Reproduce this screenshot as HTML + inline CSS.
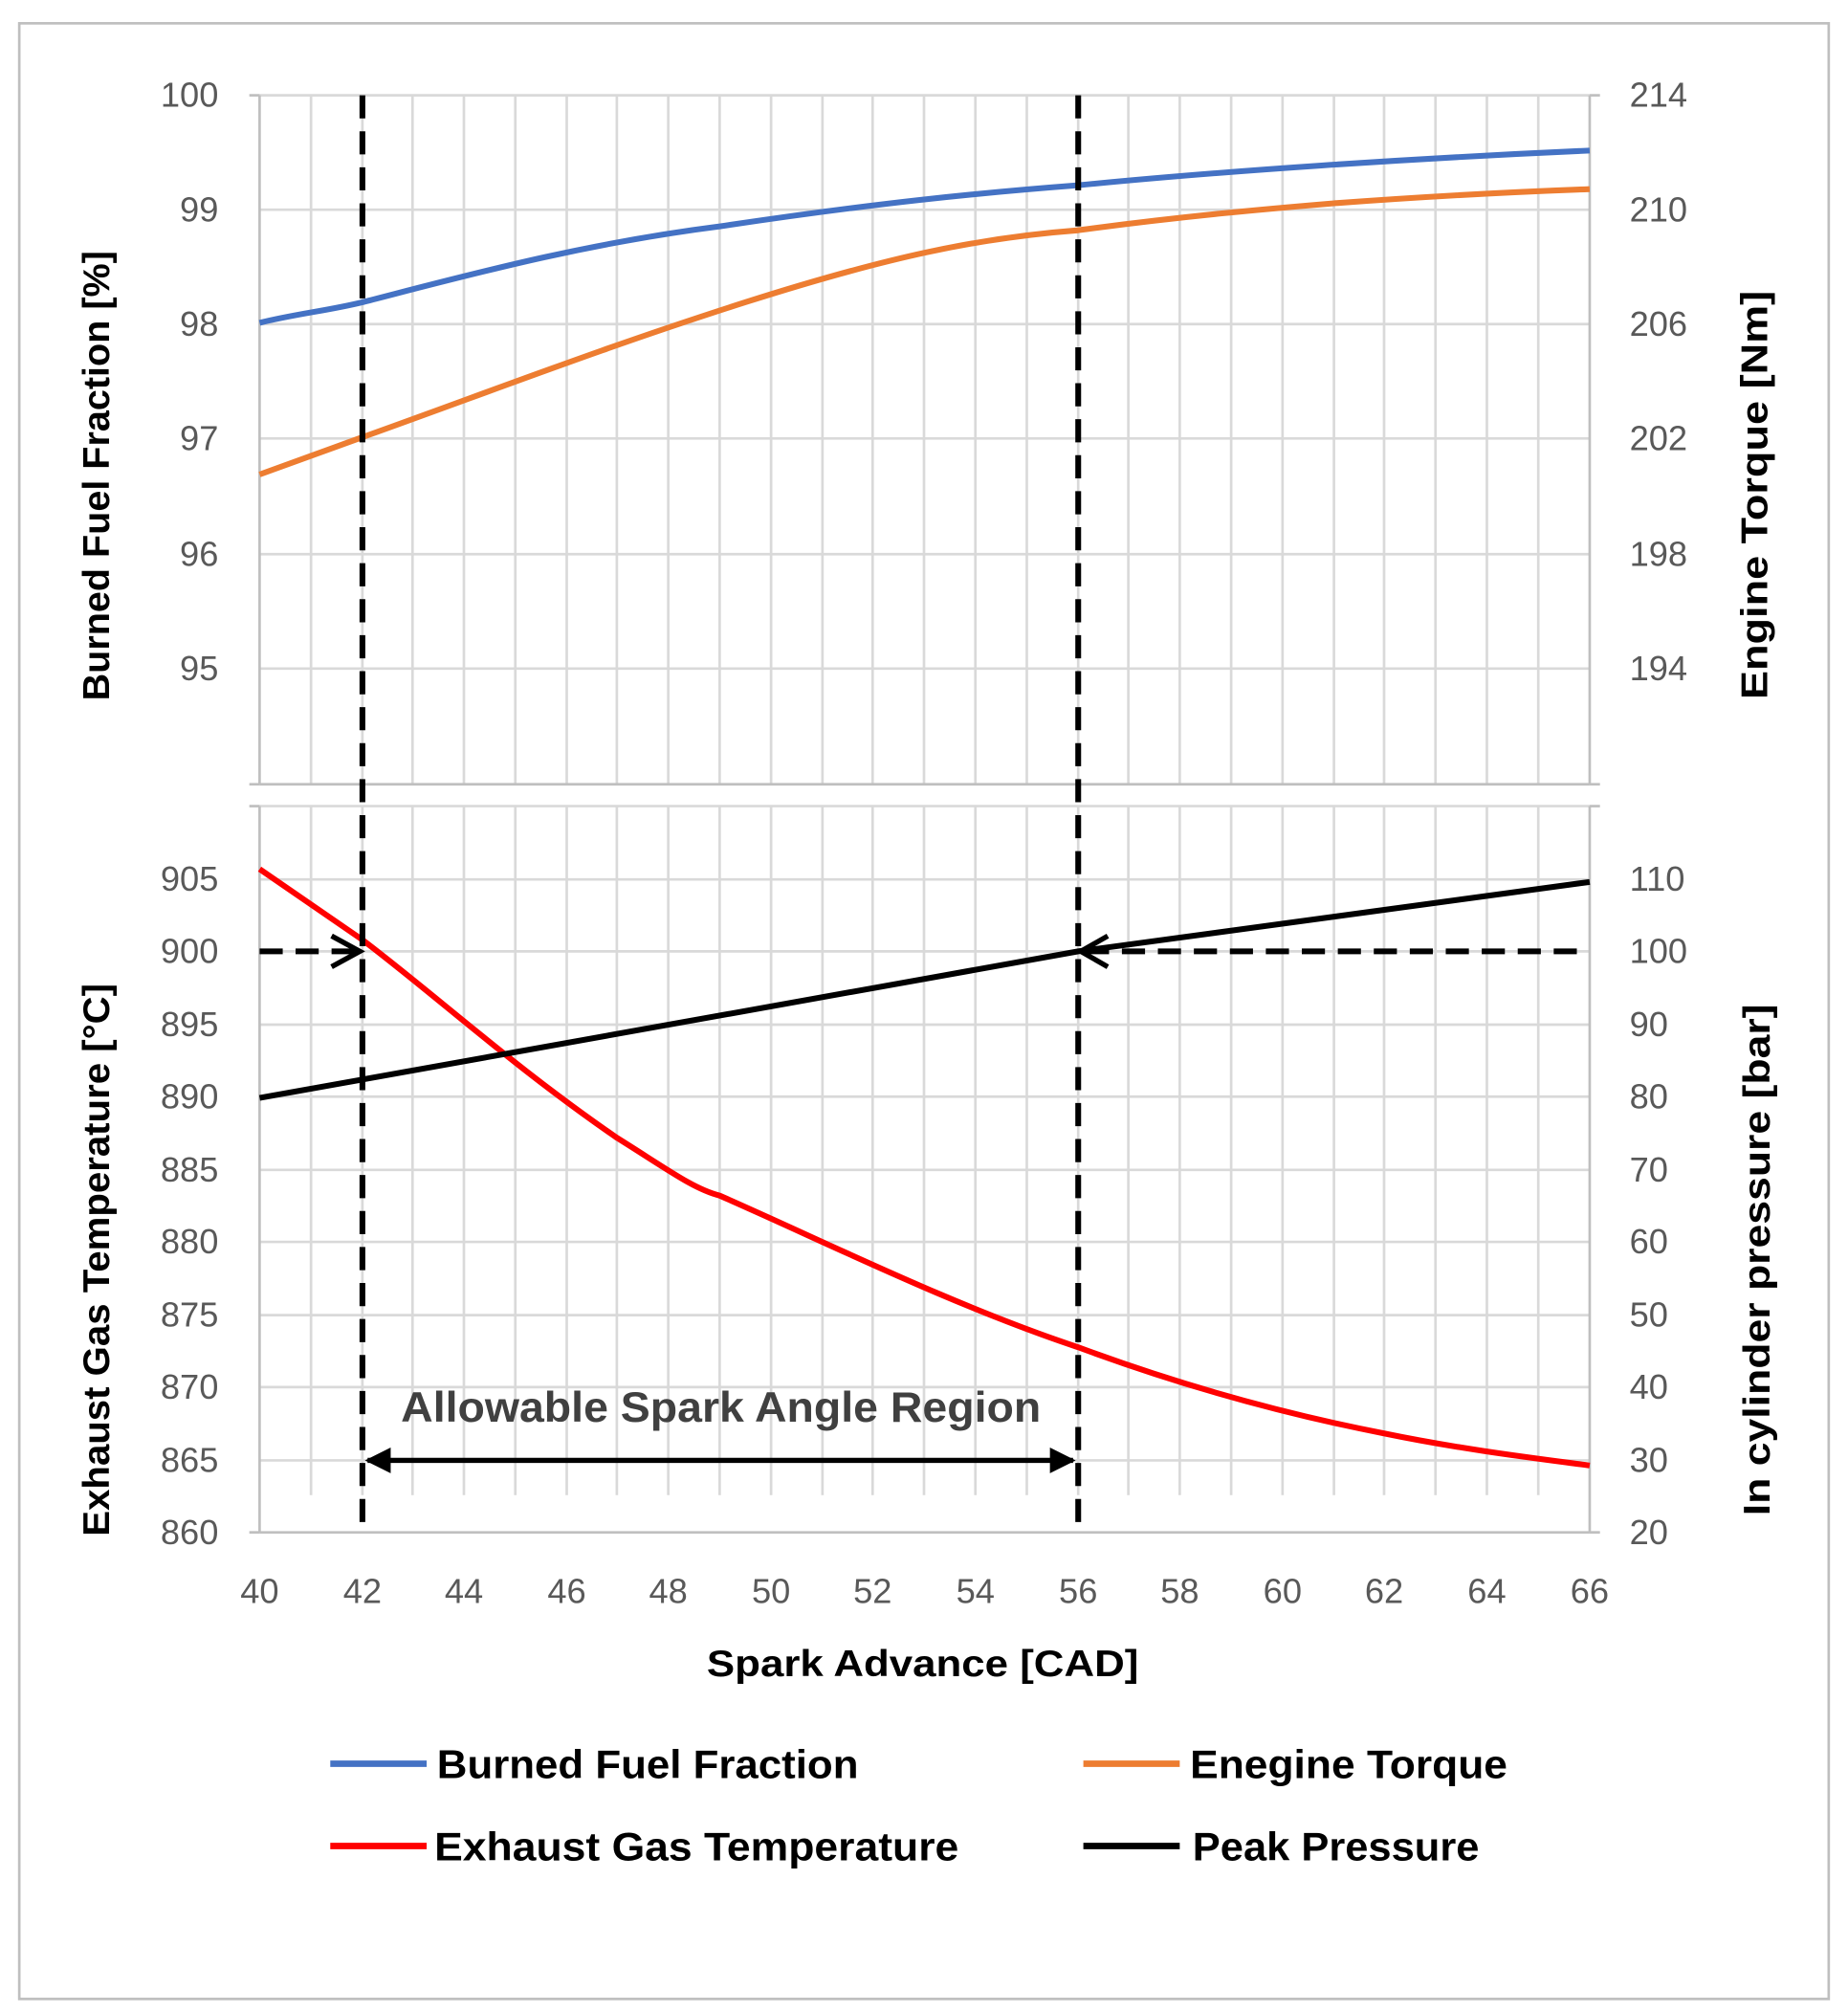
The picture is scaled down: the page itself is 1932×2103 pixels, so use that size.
<!DOCTYPE html>
<html><head><meta charset="utf-8"><style>html,body{margin:0;padding:0;background:#fff}svg{display:block}</style></head>
<body>
<svg width="1932" height="2103" viewBox="0 0 1438 1565" xmlns="http://www.w3.org/2000/svg" font-family="Liberation Sans, sans-serif">
<rect x="15" y="18" width="1408" height="1537" fill="#fff" stroke="#bfbfbf" stroke-width="2"/>
<g stroke="#d9d9d9" stroke-width="2">
<g id="vg">
<line x1="242" y1="74" x2="242" y2="610"/><line x1="282" y1="74" x2="282" y2="610"/><line x1="321" y1="74" x2="321" y2="610"/><line x1="361" y1="74" x2="361" y2="610"/><line x1="401" y1="74" x2="401" y2="610"/><line x1="441" y1="74" x2="441" y2="610"/><line x1="480" y1="74" x2="480" y2="610"/><line x1="520" y1="74" x2="520" y2="610"/><line x1="560" y1="74" x2="560" y2="610"/><line x1="600" y1="74" x2="600" y2="610"/><line x1="640" y1="74" x2="640" y2="610"/><line x1="679" y1="74" x2="679" y2="610"/><line x1="719" y1="74" x2="719" y2="610"/><line x1="759" y1="74" x2="759" y2="610"/><line x1="799" y1="74" x2="799" y2="610"/><line x1="839" y1="74" x2="839" y2="610"/><line x1="878" y1="74" x2="878" y2="610"/><line x1="918" y1="74" x2="918" y2="610"/><line x1="958" y1="74" x2="958" y2="610"/><line x1="998" y1="74" x2="998" y2="610"/><line x1="1038" y1="74" x2="1038" y2="610"/><line x1="1077" y1="74" x2="1077" y2="610"/><line x1="1117" y1="74" x2="1117" y2="610"/><line x1="1157" y1="74" x2="1157" y2="610"/><line x1="1197" y1="74" x2="1197" y2="610"/>
</g>
<use href="#vg" transform="translate(0,553)"/>
<line x1="202" y1="74" x2="1237" y2="74"/><line x1="202" y1="163" x2="1237" y2="163"/><line x1="202" y1="252" x2="1237" y2="252"/><line x1="202" y1="341" x2="1237" y2="341"/><line x1="202" y1="431" x2="1237" y2="431"/><line x1="202" y1="520" x2="1237" y2="520"/>
<line x1="202" y1="627" x2="1237" y2="627"/><line x1="202" y1="684" x2="1237" y2="684"/><line x1="202" y1="740" x2="1237" y2="740"/><line x1="202" y1="797" x2="1237" y2="797"/><line x1="202" y1="853" x2="1237" y2="853"/><line x1="202" y1="910" x2="1237" y2="910"/><line x1="202" y1="966" x2="1237" y2="966"/><line x1="202" y1="1023" x2="1237" y2="1023"/><line x1="202" y1="1079" x2="1237" y2="1079"/><line x1="202" y1="1136" x2="1237" y2="1136"/>
</g>
<g stroke="#bfbfbf" stroke-width="2">
<line x1="202" y1="74" x2="202" y2="610"/><line x1="1237" y1="74" x2="1237" y2="610"/>
<line x1="202" y1="610" x2="1237" y2="610"/>
<line x1="202" y1="627" x2="202" y2="1192"/><line x1="1237" y1="627" x2="1237" y2="1192"/>
<line x1="202" y1="1192" x2="1237" y2="1192"/>
<line x1="194" y1="74" x2="202" y2="74"/><line x1="1237" y1="74" x2="1245" y2="74"/>
<line x1="194" y1="610" x2="202" y2="610"/><line x1="1237" y1="610" x2="1245" y2="610"/>
<line x1="194" y1="627" x2="202" y2="627"/><line x1="1237" y1="627" x2="1245" y2="627"/>
<line x1="194" y1="1192" x2="202" y2="1192"/><line x1="1237" y1="1192" x2="1245" y2="1192"/>
</g>
<g font-size="27" fill="#595959" text-anchor="end">
<text x="170" y="83">100</text><text x="170" y="172">99</text><text x="170" y="261">98</text><text x="170" y="350">97</text><text x="170" y="440">96</text><text x="170" y="529">95</text>
<text x="170" y="693">905</text><text x="170" y="749">900</text><text x="170" y="806">895</text><text x="170" y="862">890</text><text x="170" y="919">885</text><text x="170" y="975">880</text><text x="170" y="1032">875</text><text x="170" y="1088">870</text><text x="170" y="1145">865</text><text x="170" y="1201">860</text>
</g>
<g font-size="27" fill="#595959" text-anchor="start">
<text x="1268" y="83">214</text><text x="1268" y="172">210</text><text x="1268" y="261">206</text><text x="1268" y="350">202</text><text x="1268" y="440">198</text><text x="1268" y="529">194</text>
<text x="1268" y="693">110</text><text x="1268" y="749">100</text><text x="1268" y="806">90</text><text x="1268" y="862">80</text><text x="1268" y="919">70</text><text x="1268" y="975">60</text><text x="1268" y="1032">50</text><text x="1268" y="1088">40</text><text x="1268" y="1145">30</text><text x="1268" y="1201">20</text>
</g>
<g font-size="27" fill="#595959" text-anchor="middle">
<text x="202" y="1247">40</text><text x="282" y="1247">42</text><text x="361" y="1247">44</text><text x="441" y="1247">46</text><text x="520" y="1247">48</text><text x="600" y="1247">50</text><text x="679" y="1247">52</text><text x="759" y="1247">54</text><text x="839" y="1247">56</text><text x="918" y="1247">58</text><text x="998" y="1247">60</text><text x="1077" y="1247">62</text><text x="1157" y="1247">64</text><text x="1237" y="1247">66</text>
</g>
<g font-size="29" font-weight="bold" fill="#000" text-anchor="middle">
<text transform="translate(85,370) rotate(-90)" textLength="350" lengthAdjust="spacingAndGlyphs">Burned Fuel Fraction [%]</text>
<text transform="translate(85,980) rotate(-90)" textLength="430" lengthAdjust="spacingAndGlyphs">Exhaust Gas Temperature [°C]</text>
<text transform="translate(1375,385) rotate(-90)" textLength="318" lengthAdjust="spacingAndGlyphs">Engine Torque [Nm]</text>
<text transform="translate(1377,980) rotate(-90)" textLength="398" lengthAdjust="spacingAndGlyphs">In cylinder pressure [bar]</text>
<text x="718" y="1304" textLength="336" lengthAdjust="spacingAndGlyphs">Spark Advance [CAD]</text>
</g>
<g fill="none" stroke-width="4.5" stroke-linejoin="round">
<path stroke="#4472c4" d="M202,251 C230,244 255,241.6 282,235 C360,215 450,190 560,176 C680,158 760,150 839,144 C950,133 1100,123 1237,117"/>
<path stroke="#ed7d31" d="M202,369 L282,340 C380,305 470,270 580,235 C690,200 760,185 839,179 C920,168 990,162 1038,158 C1120,152 1180,149 1237,147"/>
<path stroke="#ff0000" d="M202,676 L282,731 C340,775 400,830 480,885 C520,910 540,925 560,930 C640,965 740,1015 839,1048 C920,1078 1000,1100 1077,1115 C1140,1128 1200,1135 1237,1140"/>
<path stroke="#000" d="M202,854 L839,740 L1237,686"/>
</g>
<g stroke="#000" stroke-width="4.5" stroke-dasharray="18,10" fill="none">
<line x1="282" y1="74" x2="282" y2="1190"/><line x1="839" y1="74" x2="839" y2="1190"/>
<line x1="202" y1="740" x2="278" y2="740"/><line x1="845" y1="740" x2="1237" y2="740"/>
</g>
<g stroke="#000" stroke-width="4" fill="none">
<polyline points="258,728 280,740 258,752"/>
<polyline points="862,728 841,740 862,752"/>
<line x1="286" y1="1136" x2="835" y2="1136"/>
</g>
<polygon points="284,1136 304,1126 304,1146" fill="#000"/>
<polygon points="837,1136 817,1126 817,1146" fill="#000"/>
<text x="561" y="1106" font-size="33" font-weight="bold" fill="#404040" text-anchor="middle" textLength="498" lengthAdjust="spacingAndGlyphs">Allowable Spark Angle Region</text>
<g stroke-width="5">
<line x1="257" y1="1372" x2="332" y2="1372" stroke="#4472c4"/>
<line x1="843" y1="1372" x2="918" y2="1372" stroke="#ed7d31"/>
<line x1="257" y1="1436" x2="332" y2="1436" stroke="#ff0000"/>
<line x1="843" y1="1436" x2="918" y2="1436" stroke="#000"/>
</g>
<g font-size="31" font-weight="bold" fill="#000">
<text x="340" y="1383" textLength="328" lengthAdjust="spacingAndGlyphs">Burned Fuel Fraction</text>
<text x="926" y="1383" textLength="247" lengthAdjust="spacingAndGlyphs">Enegine Torque</text>
<text x="338" y="1447" textLength="408" lengthAdjust="spacingAndGlyphs">Exhaust Gas Temperature</text>
<text x="928" y="1447" textLength="223" lengthAdjust="spacingAndGlyphs">Peak Pressure</text>
</g>
</svg>
</body></html>
